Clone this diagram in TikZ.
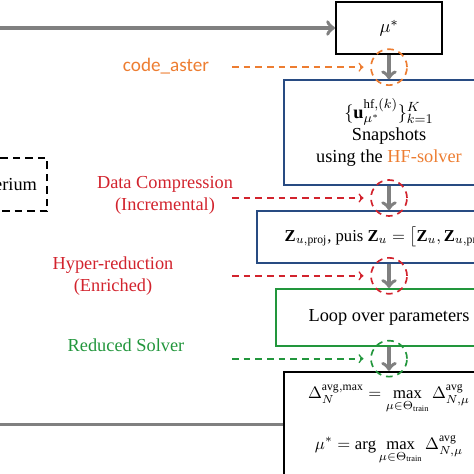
\documentclass[tikz,border=0pt]{standalone}
\usepackage{amsmath}
\usepackage{fontspec}
\setmainfont{Liberation Serif}
\newfontfamily\codefont{Carlito}
\usetikzlibrary{positioning,calc}

\definecolor{orangeC}{RGB}{237,125,49}
\definecolor{redC}{RGB}{210,35,45}
\definecolor{greenC}{RGB}{34,150,60}
\definecolor{blueC}{RGB}{40,75,130}
\definecolor{greyC}{RGB}{128,128,128}

\begin{document}
\begin{tikzpicture}[x=0.6pt,y=-0.6pt,font=\fontsize{11}{13.2}\selectfont,node distance=14.6pt,
    stage/.style={draw,line width=1.2pt,align=center,inner sep=2pt},
    ring/.style={circle,draw=#1,line width=1pt,dash pattern=on 4pt off 3pt,minimum size=21.6pt,inner sep=0pt},
    feed/.style={draw=#1,-to,line width=1pt,dash pattern=on 4pt off 3pt,shorten >=4pt}]
  \useasboundingbox (0,0) rectangle (474,474);
  \clip (0,0) rectangle (474,474);
  \node[stage,minimum width=63.6pt,minimum height=31.2pt,anchor=north] (mu) at (389,1) {$\mu^*$};
  \node[stage,draw=blueC,line width=0.9pt,minimum width=126pt,minimum height=63pt,below=of mu] (snap)
    {$\{\mathbf{u}_{\mu^*}^{\mathrm{hf},(k)}\}_{k=1}^{K}$\\[0pt] Snapshots\\[0pt] using the \textcolor{orangeC}{HF-solver}};
  \node[stage,draw=blueC,line width=0.9pt,minimum width=158.4pt,minimum height=31.2pt,below=of snap,
    font=\fontsize{10}{12}\selectfont] (zproj)
    {$\mathbf{Z}_{u,\mathrm{proj}}$, puis $\mathbf{Z}_u=\big[\mathbf{Z}_u,\mathbf{Z}_{u,\mathrm{proj}}\big]$};
  \node[stage,draw=greenC,line width=0.9pt,minimum width=135.6pt,minimum height=34.2pt,below=of zproj] (loop)
    {Loop over parameters};
  \node[stage,minimum width=126pt,minimum height=63pt,below=of loop,font=\fontsize{10}{12}\selectfont] (err)
    {$\displaystyle\Delta_N^{\mathrm{avg,max}}=\max_{\mu\in\Theta_{\mathrm{train}}}\Delta_{N,\mu}^{\mathrm{avg}}$\\[12pt]
     $\displaystyle\mu^*=\arg\max_{\mu\in\Theta_{\mathrm{train}}}\Delta_{N,\mu}^{\mathrm{avg}}$};
  \path[-to,line width=2.2pt,draw=greyC]
    (mu) edge (snap)
    (snap) edge (zproj)
    (zproj) edge (loop)
    (loop) edge (err);
  % loop back to the top
  \coordinate (loopin) at ($(mu.west)+(-360,0)$);
  \coordinate (loopout) at ($(err.west)+(-310,0)$);
  \draw[-to,line width=2.2pt,greyC] (loopin) -- (mu);
  \draw[line width=2.2pt,greyC] (err) -- (loopout);
  \node[draw,line width=1.2pt,dash pattern=on 4.5pt off 3pt,anchor=east,minimum height=31.8pt,
    text width=90pt,align=right,inner sep=6pt] (stop) at (48,184.5) {erium};
  % tools feeding each step
  \node[ring=orangeC] (c1) at ($(mu.south)!0.5!(snap.north)$) {};
  \node[ring=redC] (c2) at ($(snap.south)!0.5!(zproj.north)$) {};
  \node[ring=redC] (c3) at ($(zproj.south)!0.5!(loop.north)$) {};
  \node[ring=greenC] (c4) at ($(loop.south)!0.5!(err.north)$) {};
  \foreach \i in {1,...,4}
    \coordinate (s\i) at ($(c\i.center)+(-157,0)$);
  \node[text=orangeC,font=\codefont\fontsize{11.5}{14}\selectfont] (aster) at (166,66) {code\_aster};
  \node[text=redC,align=center] (compr) at (165,195) {Data Compression\\(Incremental)};
  \node[text=redC,align=center] (hyper) at (113,276) {Hyper-reduction\\(Enriched)};
  \node[text=greenC] (solver) at (126,345) {Reduced Solver};
  \draw[feed=orangeC] (s1) -- (c1);
  \draw[feed=redC] (s2) -- (c2);
  \draw[feed=redC] (s3) -- (c3);
  \draw[feed=greenC] (s4) -- (c4);
\end{tikzpicture}
\end{document}
